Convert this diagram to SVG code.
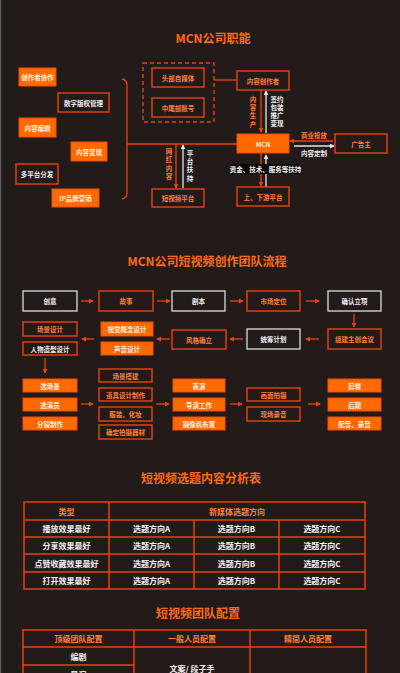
<svg xmlns="http://www.w3.org/2000/svg" width="400" height="673" viewBox="0 0 400 673">
<style>
text{font-family:"Noto Sans CJK SC","Noto Sans",sans-serif;font-weight:bold;text-anchor:middle;dominant-baseline:central}
.title{font-size:12px;fill:#ff6a13}
.s{font-size:6.5px}
.m{font-size:8px}
.v{font-size:6.5px;writing-mode:vertical-rl;letter-spacing:1.8px}
.tw{fill:#f2f2f2}
.tc{fill:#fff1e0}
.to{fill:#ff7f3a}
.f{fill:#ff6a00;stroke:#f04d10;stroke-width:1}
.o{fill:#231b1a;stroke:#e8430f;stroke-width:1.4}
.w{fill:#231b1a;stroke:#cfcfcf;stroke-width:1.4}
.lo{stroke:#e8430f;stroke-width:1.3;fill:none}
.lw{stroke:#e6e6e6;stroke-width:1.3;fill:none}
.tb{stroke:#e8430f;stroke-width:1.5;fill:none}
</style>
<defs>
<marker id="ao" viewBox="0 0 6 6" refX="5" refY="3" markerWidth="5" markerHeight="5" orient="auto" markerUnits="userSpaceOnUse"><path d="M0,0 L6,3 L0,6z" fill="#e8430f"/></marker>
<marker id="aw" viewBox="0 0 6 6" refX="5" refY="3" markerWidth="5" markerHeight="5" orient="auto" markerUnits="userSpaceOnUse"><path d="M0,0 L6,3 L0,6z" fill="#e6e6e6"/></marker>
</defs>
<rect width="400" height="673" fill="#231b1a"/>
<rect x="0" y="0" width="1.2" height="673" fill="#5e5a59"/>

<!-- Section 1 -->
<text class="title" x="213" y="37">MCN公司职能</text>

<g id="connectors1">
<path class="lo" d="M122,79 Q127,80 127,85 L127,193 Q127,198 122,199"/>
<path class="lo" d="M127,144 H237"/>
<path class="lo" d="M214,80 H237"/>
<path class="lo" d="M261,90 V132" marker-end="url(#ao)"/>
<path class="lw" d="M266,133 V91" marker-end="url(#aw)"/>
<path class="lo" d="M333,141 H290" marker-end="url(#ao)"/>
<path class="lw" d="M294,146 H334" marker-end="url(#aw)"/>
<path class="lo" d="M261,153 V186" marker-end="url(#ao)"/>
<path class="lw" d="M266,187 V155" marker-end="url(#aw)"/>
<path class="lo" d="M176,144 V188" marker-end="url(#ao)"/>
<path class="lw" d="M183,188 V145" marker-end="url(#aw)"/>
</g>
<g id="labels1">
<text class="v to" x="253" y="112.5">内容生产</text>
<text class="s tw" x="277" y="99">签约<tspan x="277" dy="8">包装</tspan><tspan x="277" dy="8">推广</tspan><tspan x="277" dy="8">变现</tspan></text>
<text class="s to" x="314" y="135">商业投放</text>
<text class="s tw" x="314" y="153">内容定制</text>
<rect x="232" y="164" width="67" height="10" fill="#0d0a0a"/>
<text class="s tw" x="265.5" y="169">资金、技术、服务等扶持</text>
<text class="v to" x="169" y="165">网红内容</text>
<text class="v tw" x="190" y="166.5">平台扶持</text>
</g>

<g id="n-czzxz"><rect class="f" x="19" y="68" width="37" height="18"/><text class="s tc" x="37.5" y="77">创作者协作</text></g>
<g id="n-szbqgl"><rect class="o" x="58" y="93" width="51" height="19"/><text class="s tw" x="83.5" y="102.5">数字版权管理</text></g>
<g id="n-nrbj"><rect class="f" x="19" y="118" width="37" height="19"/><text class="s tc" x="37.5" y="127.5">内容编辑</text></g>
<g id="n-nrbx"><rect class="f" x="71" y="142" width="36" height="19"/><text class="s tc" x="89" y="151.5">内容变现</text></g>
<g id="n-dptff"><rect class="o" x="16" y="164" width="42" height="20"/><text class="s tw" x="37" y="174">多平台分发</text></g>
<g id="n-ippp"><rect class="f" x="52" y="189" width="47" height="18"/><text class="s tc" x="75.5" y="198">IP品牌营销</text></g>
<g id="n-group"><rect x="143" y="63" width="71" height="59" fill="none" stroke="#e8430f" stroke-width="1.4" stroke-dasharray="4,3"/></g>
<g id="n-tbzmt"><rect class="o" x="152" y="68" width="52" height="19"/><text class="s to" x="178" y="77.5">头部自媒体</text></g>
<g id="n-zwbzh"><rect class="o" x="152" y="98" width="52" height="19"/><text class="s to" x="178" y="107.5">中尾部账号</text></g>
<g id="n-nrczz"><rect class="o" x="237" y="71" width="52" height="19"/><text class="s to" x="263" y="80.5">内容创作者</text></g>
<g id="n-mcn"><rect class="f" x="237" y="134" width="52" height="19"/><text class="s tc" x="263" y="143.5">MCN</text></g>
<g id="n-ggz"><rect class="o" x="335" y="134" width="52" height="19"/><text class="s to" x="361" y="143.5">广告主</text></g>
<g id="n-sxypt"><rect class="o" x="237" y="187" width="52" height="19"/><text class="s to" x="263" y="196.5">上、下游平台</text></g>
<g id="n-dspt"><rect class="o" x="152" y="189" width="52" height="18"/><text class="s to" x="178" y="198">短视频平台</text></g>

<!-- Section 2 -->
<text class="title" x="207" y="260">MCN公司短视频创作团队流程</text>
<g id="connectors2">
<path class="lo" d="M81,301 H93" marker-end="url(#ao)"/>
<path class="lo" d="M157,301 H170" marker-end="url(#ao)"/>
<path class="lo" d="M230,301 H243" marker-end="url(#ao)"/>
<path class="lo" d="M306,301 H319" marker-end="url(#ao)"/>
<path class="lo" d="M354,314 V327" marker-end="url(#ao)"/>
<path class="lo" d="M319,339 H306" marker-end="url(#ao)"/>
<path class="lo" d="M243,339 H230" marker-end="url(#ao)"/>
<path class="lo" d="M170,339 H157" marker-end="url(#ao)"/>
<path class="lo" d="M94,339 H82" marker-end="url(#ao)"/>
<path class="lo" d="M45,358 V373" marker-end="url(#ao)"/>
<path class="lo" d="M81,404 H93" marker-end="url(#ao)"/>
<path class="lo" d="M156,404 H169" marker-end="url(#ao)"/>
<path class="lo" d="M230,404 H242" marker-end="url(#ao)"/>
<path class="lo" d="M308,404 H320" marker-end="url(#ao)"/>
</g>
<g id="n-cy"><rect class="w" x="23" y="291" width="54" height="20"/><text class="s tw" x="50" y="301">创意</text></g>
<g id="n-gs"><rect class="o" x="99" y="291" width="54" height="20"/><text class="s to" x="126" y="301">故事</text></g>
<g id="n-jb"><rect class="w" x="172" y="291" width="53" height="20"/><text class="s tw" x="198.5" y="301">剧本</text></g>
<g id="n-scdw"><rect class="o" x="247" y="291" width="53" height="20"/><text class="s to" x="273.5" y="301">市场定位</text></g>
<g id="n-qrlx"><rect class="w" x="328" y="291" width="53" height="20"/><text class="s tw" x="354.5" y="301">确认立项</text></g>
<g id="n-zjzc"><rect class="o" x="328" y="329" width="53" height="20"/><text class="s to" x="354.5" y="339">组建主创会议</text></g>
<g id="n-tcjh"><rect class="w" x="247" y="329" width="53" height="20"/><text class="s tw" x="273.5" y="339">统筹计划</text></g>
<g id="n-fgql"><rect class="o" x="172" y="330" width="54" height="19"/><text class="s to" x="199" y="339.5">风格确立</text></g>
<g id="n-sjgn"><rect class="f" x="101" y="322" width="52" height="14"/><text class="s tc" x="127" y="329">视觉概念设计</text></g>
<g id="n-sysj"><rect class="f" x="101" y="342" width="52" height="13"/><text class="s tc" x="127" y="348.5">声音设计</text></g>
<g id="n-cjsj"><rect class="o" x="23" y="322" width="54" height="14"/><text class="s to" x="50" y="329">场景设计</text></g>
<g id="n-rwzx"><rect class="o" x="23" y="342" width="54" height="13"/><text class="s tw" x="50" y="348.5">人物造型设计</text></g>
<g id="n-xcj"><rect class="f" x="23" y="379" width="54" height="13"/><text class="s tc" x="50" y="385.5">选场景</text></g>
<g id="n-xyy"><rect class="f" x="23" y="398" width="54" height="13"/><text class="s tc" x="50" y="404.5">选演员</text></g>
<g id="n-fjzz"><rect class="f" x="23" y="417" width="54" height="13"/><text class="s tc" x="50" y="423.5">分镜制作</text></g>
<g id="n-cjdj"><rect class="o" x="99" y="369" width="53" height="13"/><text class="s to" x="125.5" y="375.5">场景搭建</text></g>
<g id="n-djsj"><rect class="o" x="99" y="388" width="53" height="13"/><text class="s to" x="125.5" y="394.5">道具设计制作</text></g>
<g id="n-fzhz"><rect class="o" x="99" y="407" width="53" height="14"/><text class="s to" x="125.5" y="414">服装、化妆</text></g>
<g id="n-qdps"><rect class="o" x="99" y="425" width="53" height="14"/><text class="s to" x="125.5" y="432">确定拍摄器材</text></g>
<g id="n-by"><rect class="f" x="173" y="379" width="52" height="13"/><text class="s tc" x="199" y="385.5">表演</text></g>
<g id="n-dygz"><rect class="f" x="173" y="398" width="52" height="13"/><text class="s tc" x="199" y="404.5">导演工作</text></g>
<g id="n-sxj"><rect class="f" x="173" y="417" width="52" height="13"/><text class="s tc" x="199" y="423.5">摄像机布置</text></g>
<g id="n-hmps"><rect class="o" x="247" y="388" width="53" height="13"/><text class="s to" x="273.5" y="394.5">画面拍摄</text></g>
<g id="n-xcly"><rect class="o" x="247" y="407" width="53" height="14"/><text class="s to" x="273.5" y="414">现场录音</text></g>
<g id="n-jj"><rect class="f" x="328" y="379" width="53" height="13"/><text class="s tc" x="354.5" y="385.5">剪辑</text></g>
<g id="n-hq"><rect class="f" x="328" y="398" width="53" height="13"/><text class="s tc" x="354.5" y="404.5">后期</text></g>
<g id="n-py"><rect class="f" x="328" y="417" width="53" height="13"/><text class="s tc" x="354.5" y="423.5">配音、录音</text></g>

<!-- Section 3 -->
<text class="title" x="201" y="477">短视频选题内容分析表</text>
<g id="table1">
<rect class="tb" x="24" y="502" width="341" height="87"/>
<path class="tb" d="M24,520 H365 M24,537 H365 M24,554 H365 M24,572 H365 M109,502 V589 M194,520 V589 M279,520 V589"/>
<text class="m to" x="66.5" y="511">类型</text>
<text class="m to" x="237" y="511">新媒体选题方向</text>
<text class="m tw" x="66.5" y="528.5">播放效果最好</text>
<text class="m tw" x="66.5" y="545.5">分享效果最好</text>
<text class="m tw" x="66.5" y="563">点赞收藏效果最好</text>
<text class="m tw" x="66.5" y="580.5">打开效果最好</text>
<text class="m tw" x="151.5" y="528.5">选题方向A</text><text class="m tw" x="236.5" y="528.5">选题方向B</text><text class="m tw" x="322" y="528.5">选题方向C</text>
<text class="m tw" x="151.5" y="545.5">选题方向A</text><text class="m tw" x="236.5" y="545.5">选题方向B</text><text class="m tw" x="322" y="545.5">选题方向C</text>
<text class="m tw" x="151.5" y="563">选题方向A</text><text class="m tw" x="236.5" y="563">选题方向B</text><text class="m tw" x="322" y="563">选题方向C</text>
<text class="m tw" x="151.5" y="580.5">选题方向A</text><text class="m tw" x="236.5" y="580.5">选题方向B</text><text class="m tw" x="322" y="580.5">选题方向C</text>
</g>

<!-- Section 4 -->
<text class="title" x="198" y="612">短视频团队配置</text>
<g id="table2">
<path class="tb" d="M23,680 V630 H366 V680 M23,647 H366 M23,665 H134 M134,630 V680 M250,630 V680"/>
<text class="m to" x="78.5" y="638.5">顶级团队配置</text>
<text class="m to" x="192" y="638.5">一般人员配置</text>
<text class="m to" x="308" y="638.5">精简人员配置</text>
<text class="m tw" x="78.5" y="656.5">编剧</text>
<text class="m tw" x="78.5" y="674">导演</text>
<text class="m tw" x="192" y="668.5">文案/ 段子手</text>
</g>
</svg>
